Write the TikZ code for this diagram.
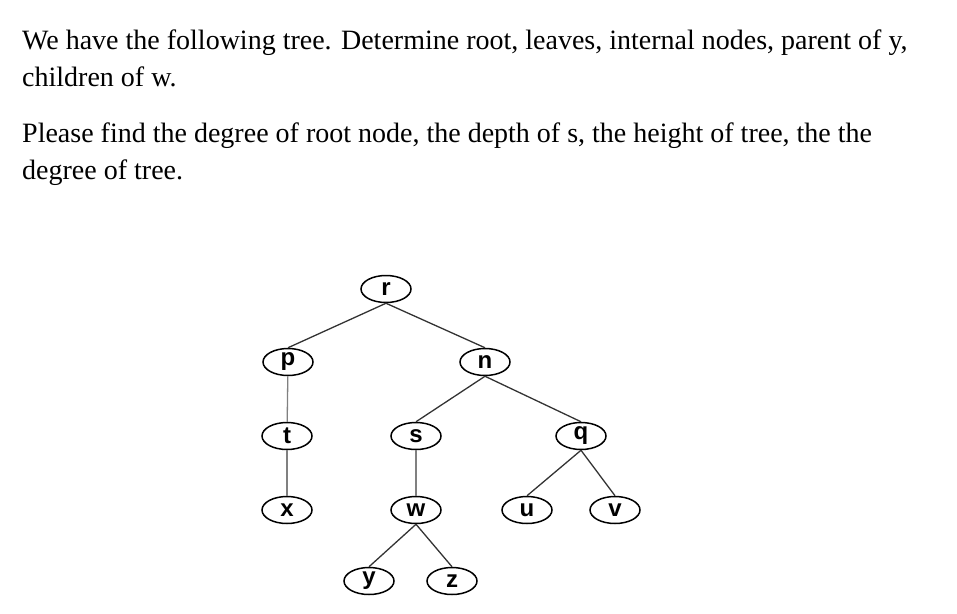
\documentclass[tikz,border=0pt]{standalone}
\usepackage{fontspec}
\setmainfont{Liberation Serif}
\newfontfamily\nodefont{Liberation Sans}
\usetikzlibrary{shapes.geometric}
\begin{document}
\begin{tikzpicture}[x=1pt,y=-1pt,
  tn/.style={ellipse,draw,line width=1.5pt,minimum width=50pt,minimum height=27pt,inner sep=0pt,font=\nodefont\bfseries\fontsize{24}{24}\selectfont},
  ed/.style={line width=1.3pt,draw=black!80},
  para/.style={anchor=base west,font=\fontsize{28}{28}\selectfont,inner sep=0pt}]
\useasboundingbox (0,0) rectangle (957,613);
\node[para] (l1) at (22,49) {We have the following tree. Determine root, leaves, internal nodes, parent of y,};
\node[para] (l2) at (22,86) {children of w.};
\node[para] (l3) at (22,142) {Please find the degree of root node, the depth of s, the height of tree, the the};
\node[para] (l4) at (22,179) {degree of tree.};
\node[tn] (r) at (386,289) {r};
\node[tn] (p) at (288,362) {p};
\node[tn] (n) at (485,362) {n};
\node[tn] (t) at (287,436) {t};
\node[tn] (s) at (416,436) {s};
\node[tn] (q) at (581,436) {q};
\node[tn] (x) at (287,510) {x};
\node[tn] (w) at (416,510) {w};
\node[tn] (u) at (527,510) {u};
\node[tn] (v) at (615,510) {v};
\node[tn] (y) at (369,581) {y};
\node[tn] (z) at (452,581) {z};
\draw[ed] (r.south) -- (p.north);
\draw[ed] (r.south) -- (n.north);
\draw[ed,draw=black!50] (p) -- (t);
\draw[ed,draw=black!50] (t) -- (x);
\draw[ed] (n.south) -- (s.north);
\draw[ed] (n.south) -- (q.north);
\draw[ed,draw=black!50] (s) -- (w);
\draw[ed] (q.south) -- (u.north);
\draw[ed] (q.south) -- (v.north);
\draw[ed] (w.south) -- (y.north);
\draw[ed] (w.south) -- (z.north);
\end{tikzpicture}
\end{document}
